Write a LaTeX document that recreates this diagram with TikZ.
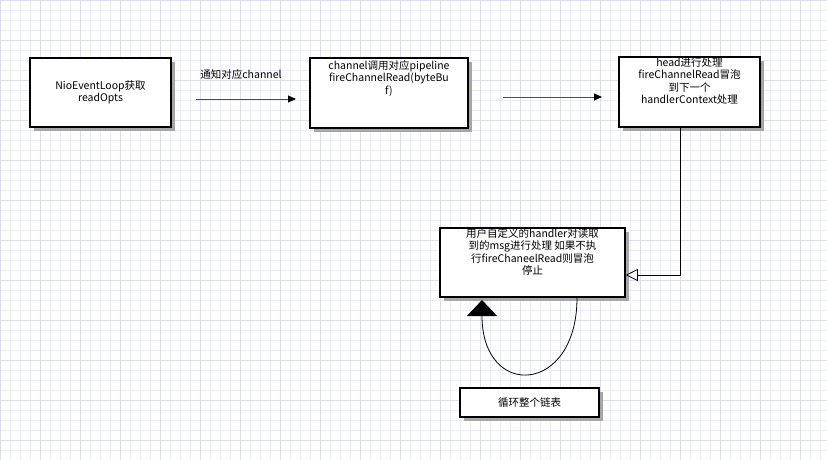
\documentclass[tikz,border=0pt]{standalone}
\usepackage{fontspec}
\setmainfont{Noto Sans CJK SC}
\usetikzlibrary{arrows.meta,shadows}
\begin{document}
\begin{tikzpicture}[x=1pt,y=-1pt,
  box/.style={draw,line width=1.6pt,fill=white,align=center,font=\fontsize{10.5}{12.5}\selectfont,inner sep=1pt,
    drop shadow={shadow xshift=4pt,shadow yshift=-4pt,fill=black!35,opacity=1}},
  lbl/.style={font=\fontsize{10.5}{12.5}\selectfont}]
\useasboundingbox (0,0) rectangle (827,460);
\fill[white] (0,0) rectangle (827,460);
\draw[step=10pt,color=blue!8,line width=0.5pt] (0,0) grid (827,460);
\draw[step=40pt,color=blue!14,line width=0.6pt] (0,0) grid (827,460);
\node[box,minimum width=141pt,minimum height=69pt] (a) at (100.5,92.5) {NioEventLoop获取\\readOpts};
\node[box,minimum width=158pt,minimum height=70pt,anchor=north] (b) at (389,57) {};
\node[anchor=north,align=center,lbl] at (b.north) {channel调用对应pipeline\\fireChannelRead(byteBu\\f)};
\node[box,minimum width=141pt,minimum height=70pt] (c) at (689.5,92) {};
\node[anchor=north,align=center,lbl,inner sep=1pt] at (c.north) {head进行处理\\fireChannelRead冒泡\\到下一个\\handlerContext处理};
\node[box,minimum width=185pt,minimum height=69pt] (d) at (532.5,262.5) {};
\node[anchor=north,align=center,lbl,inner sep=1pt] at (d.north) {用户自定义的handler对读取\\到的msg进行处理 如果不执\\行fireChaneelRead则冒泡\\停止};
\node[box,minimum width=139pt,minimum height=29pt] (e) at (529.5,402.5) {循环整个链表};
\node[lbl] (t) at (241,75) {通知对应channel};
\coordinate (a1) at (196,99); \coordinate (b1) at (296,99);
\draw[gray!60!black,line width=1pt,-{Triangle[black,length=8pt,width=7pt]}] (a1) -- (b1);
\coordinate (b2) at (503,97); \coordinate (c2) at (602,97);
\draw[gray!60!black,line width=1pt,-{Triangle[black,length=8pt,width=7pt]}] (b2) -- (c2);
\draw[line width=0.8pt,-{Triangle[open,fill=white,length=12pt,width=12pt]}] (c.south west -| 680,127) |- (d.east |- 0,275);
\draw[line width=0.8pt,-{Triangle[length=16pt,width=30pt]}] (d.south -| 577,0) .. controls (577,395) and (482,400) .. (482,300);
\end{tikzpicture}
\end{document}
